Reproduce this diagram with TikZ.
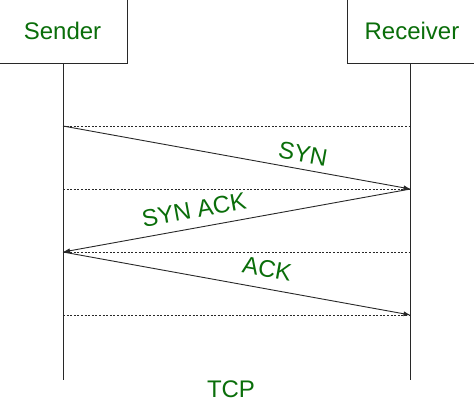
\documentclass[tikz,border=0pt]{standalone}
\usepackage{fontspec}
\setmainfont{Liberation Sans}
\usetikzlibrary{arrows.meta}
\definecolor{lblgreen}{RGB}{10,110,10}
\definecolor{linegray}{RGB}{40,40,40}
\begin{document}
\begin{tikzpicture}[x=1pt,y=-1pt,
  actor/.style={draw=linegray,line width=1pt,minimum width=130pt,minimum height=64pt,inner sep=0pt,
    text=lblgreen,font=\fontsize{24}{28}\selectfont},
  life/.style={draw=linegray,line width=1pt},
  guide/.style={draw=linegray,line width=0.9pt,dash pattern=on 2pt off 1.6pt},
  msg/.style={draw=linegray,line width=0.9pt,-{Latex[length=7pt,width=5pt]}},
  lbl/.style={text=lblgreen,font=\fontsize{24}{28}\selectfont,inner sep=0pt}]
\useasboundingbox (0,0) rectangle (474,410);
\clip (0,0) rectangle (474,410);
\fill[white] (0,0) rectangle (474,410);
\node[actor] (sender) at (62.5,31) {Sender};
\node[actor] (receiver) at (412,31) {Receiver};
\coordinate (s0) at (63,63);
\coordinate (s1) at (63,126);
\coordinate (s2) at (63,189);
\coordinate (s3) at (63,252);
\coordinate (s4) at (63,315);
\coordinate (s5) at (63,380);
\coordinate (r0) at (410.5,63);
\coordinate (r1) at (410.5,126);
\coordinate (r2) at (410.5,189);
\coordinate (r3) at (410.5,252);
\coordinate (r4) at (410.5,315);
\coordinate (r5) at (410.5,380);
\draw[life] (s0) -- (s5);
\draw[life] (r0) -- (r5);
\draw[guide] (s1) -- (r1);
\draw[guide] (s2) -- (r2);
\draw[guide] (s3) -- (r3);
\draw[guide] (s4) -- (r4);
\draw[msg] (s1) -- (r2);
\draw[msg] (r2) -- (s3);
\draw[msg] (s3) -- (r4);
\node[lbl,rotate=-10.3] (syn) at (303,154) {SYN};
\node[lbl,rotate=10.3] (synack) at (194,210) {SYN ACK};
\node[lbl,rotate=-10.3] (ack) at (267,269) {ACK};
\node[lbl] (tcp) at (231,389) {TCP};
\end{tikzpicture}
\end{document}
